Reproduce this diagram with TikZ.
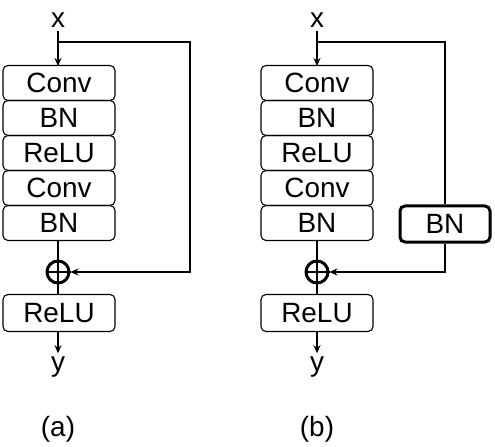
\documentclass[tikz,border=0pt]{standalone}
\usepackage{fontspec}
\setmainfont{Liberation Sans}
\usetikzlibrary{shapes, calc, arrows.meta, positioning}
\tikzstyle{layer}=[draw, rounded corners=5bp, minimum width=112bp, minimum height=35bp, inner sep=0pt, outer sep=0pt, line width=1.1bp]
\tikzstyle{shortcut}=[draw, rounded corners=5bp, minimum width=90bp, minimum height=36bp, inner sep=0pt, line width=3bp]
\tikzstyle{addop}=[draw, circle, minimum size=22bp, inner sep=0pt, line width=3bp]
\tikzstyle{flow}=[line width=1.1bp, -{Stealth[length=8bp, width=7bp]}]
\tikzstyle{wire}=[line width=1.1bp]

\begin{document}
\begin{tikzpicture}[x=1bp, y=-1bp, font=\fontsize{28}{33}\selectfont]
    \useasboundingbox (0,0) rectangle (495,447);

    % (a) plain residual block
    \node (xa) at (58, 20) {x};
    \node (conva1)[layer] at (59, 83) {Conv};
    \node (bna1)[layer, below=0pt of conva1] {BN};
    \node (relua1)[layer, below=0pt of bna1] {ReLU};
    \node (conva2)[layer, below=0pt of relua1] {Conv};
    \node (bna2)[layer, below=0pt of conva2] {BN};
    \node (adda)[addop] at (58, 272) {};
    \node (relua2)[layer, minimum height=37bp] at (59, 313) {ReLU};
    \node (ya) at (58, 367) {y};
    \node (capa) at (58, 429) {(a)};
    \coordinate (splita) at (58, 42);

    \draw[flow] (xa) -- (58, 66);
    \draw[wire] (58, 241) -- (58, 295);
    \draw[wire] (adda.north) -- (adda.south);
    \draw[wire] (adda.west) -- (adda.east);
    \draw[flow] (58, 332) -- (ya);
    \draw[flow] (splita) -| (190, 272) -- (adda);

    % (b) residual block with BN on the shortcut
    \node (xb) at (317, 20) {x};
    \node (convb1)[layer] at (317, 83) {Conv};
    \node (bnb1)[layer, below=0pt of convb1] {BN};
    \node (relub1)[layer, below=0pt of bnb1] {ReLU};
    \node (convb2)[layer, below=0pt of relub1] {Conv};
    \node (bnb2)[layer, below=0pt of convb2] {BN};
    \node (bnskip)[shortcut] at (445, 224) {BN};
    \node (addb)[addop] at (317, 272) {};
    \node (relub2)[layer, minimum height=37bp] at (317, 313) {ReLU};
    \node (yb) at (317, 367) {y};
    \node (capb) at (317, 429) {(b)};
    \coordinate (splitb) at (317, 42);

    \draw[flow] (xb) -- (317, 66);
    \draw[wire] (317, 241) -- (317, 295);
    \draw[wire] (addb.north) -- (addb.south);
    \draw[wire] (addb.west) -- (addb.east);
    \draw[flow] (317, 332) -- (yb);
    \draw[wire] (splitb) -| (bnskip.north);
    \draw[flow] (bnskip.south) |- (addb);

\end{tikzpicture}
\end{document}
